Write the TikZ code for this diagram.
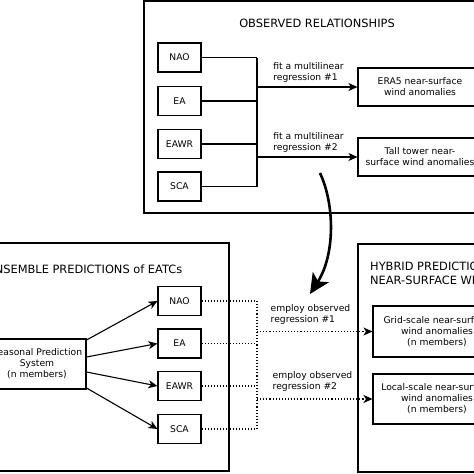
\documentclass[tikz,border=0pt]{standalone}
\usepackage{fontspec}
\setmainfont{DejaVu Sans}
\usetikzlibrary{arrows.meta,calc}
\tikzset{
  frame/.style={draw, line width=1.3pt, fill=white},
  eatc/.style={draw, line width=1.1pt, minimum width=43pt, minimum height=29pt, inner sep=0pt, font=\fontsize{9.2}{10.5}\selectfont},
  outbox/.style={draw, line width=1.1pt, inner sep=0pt, align=center, font=\fontsize{9.2}{11}\selectfont},
  lbl/.style={align=left, font=\fontsize{9.2}{11}\selectfont, inner sep=0pt},
  ttl/.style={font=\fontsize{11.4}{14}\selectfont, inner sep=0pt},
  conn/.style={line width=1.1pt},
  arr/.style={line width=1.1pt, -{Stealth[length=9pt,width=8pt,inset=2.5pt]}},
  dotarr/.style={line width=1.1pt, dotted, -{Stealth[length=9pt,width=8pt,inset=2.5pt]}},
  dotconn/.style={line width=1.1pt, dotted},
}
\begin{document}
\begin{tikzpicture}[x=1pt,y=-1pt]
\useasboundingbox (0,0) rectangle (474,474);
\clip (0,0) rectangle (474,474);
% frames
\draw[frame] (144,1) rectangle (520,213);
\draw[frame] (-40,243) rectangle (229,471);
\draw[frame] (358,244) rectangle (520,472);
% titles
\node[ttl] (t1) at (317,23) {OBSERVED RELATIONSHIPS};
\node[ttl, anchor=east] (t2) at (182.5,269) {ENSEMBLE PREDICTIONS of EATCs};
\node[ttl, anchor=north west, align=left] (t3) at (370,262) {HYBRID PREDICTIONS of\\NEAR-SURFACE WIND};
% top EATC boxes
\node[eatc] (nao1) at (179.5,57.5) {NAO};
\node[eatc] (ea1) at (179.5,101) {EA};
\node[eatc] (eawr1) at (179.5,144) {EAWR};
\node[eatc] (sca1) at (179.5,186.5) {SCA};
\coordinate (bus1) at (257,57.5);
\node[outbox, minimum width=124pt, minimum height=38pt] (era) at (420,87) {ERA5 near-surface\\wind anomalies};
\node[outbox, minimum width=124pt, minimum height=38pt] (tall) at (420,157) {Tall tower near-\\surface wind anomalies};
\draw[conn] (nao1.east) -- (nao1.east -| bus1);
\draw[conn] (ea1.east) -- (ea1.east -| bus1);
\draw[conn] (eawr1.east) -- (eawr1.east -| bus1);
\draw[conn] (sca1.east) -- (sca1.east -| bus1);
\draw[conn] (bus1 |- nao1.east) -- (bus1 |- sca1.east);
\draw[arr] (bus1 |- era.west) -- (era.west);
\draw[arr] (bus1 |- tall.west) -- (tall.west);
\node[lbl] (l1) at (308.5,72) {fit a multilinear\\regression \#1};
\node[lbl] (l2) at (308.5,142.5) {fit a multilinear\\regression \#2};
% bottom left
\node[outbox, minimum width=98pt, minimum height=50pt] (sps) at (37,364) {Seasonal Prediction\\System\\(n members)};
\node[eatc] (nao2) at (179.5,301) {NAO};
\node[eatc] (ea2) at (179.5,343.5) {EA};
\node[eatc] (eawr2) at (179.5,386) {EAWR};
\node[eatc] (sca2) at (179.5,429) {SCA};
\draw[arr] ($(sps.east)+(0,-24)$) -- (nao2.west);
\draw[arr] ($(sps.east)+(0,-7)$) -- (ea2.west);
\draw[arr] ($(sps.east)+(0,8)$) -- (eawr2.west);
\draw[arr] ($(sps.east)+(0,24)$) -- (sca2.west);
% bottom right
\node[outbox, minimum width=128pt, minimum height=51pt] (grid) at (437,331.5) {Grid-scale near-surface\\wind anomalies\\(n members)};
\node[outbox, minimum width=128pt, minimum height=50pt] (local) at (437,399) {Local-scale near-surface\\wind anomalies\\(n members)};
\coordinate (bus2) at (257,301);
\draw[dotconn] (nao2.east) -- (nao2.east -| bus2);
\draw[dotconn] (ea2.east) -- (ea2.east -| bus2);
\draw[dotconn] (eawr2.east) -- (eawr2.east -| bus2);
\draw[dotconn] (sca2.east) -- (sca2.east -| bus2);
\draw[dotconn] (bus2 |- nao2.east) -- (bus2 |- sca2.east);
\draw[dotarr] (bus2 |- grid.west) -- (grid.west);
\draw[dotarr] (bus2 |- local.west) -- (local.west);
\node[lbl] (l3) at (310.5,314.5) {employ observed\\regression \#1};
\node[lbl] (l4) at (312.5,381.5) {employ observed\\regression \#2};
% curved arrow
\coordinate (cs) at (320,173);
\coordinate (ce) at (310,294);
\draw[line width=2.6pt, -{Stealth[length=20pt,width=19pt,inset=5pt]}] (cs) .. controls (335,205) and (335,255) .. (ce);
\end{tikzpicture}
\end{document}
